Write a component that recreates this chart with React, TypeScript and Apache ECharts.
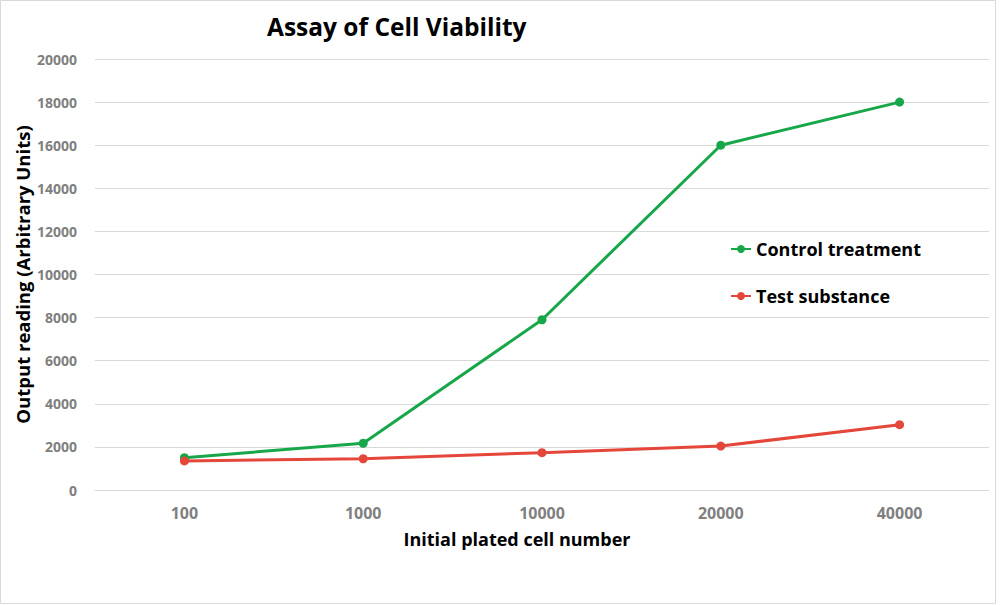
import React, { useEffect, useRef } from "react";
import * as echarts from "echarts";

// Initial plated cell numbers (categories)
const cellNumbers = ["100", "1000", "10000", "20000", "40000"];

// Output readings (arbitrary units)
const controlTreatment = [1500, 2170, 7900, 16000, 18000];
const testSubstance = [1350, 1450, 1730, 2040, 3030];

const yTicks = { min: 0, max: 20000, interval: 2000 };

const FONT = "'Open Sans', Lato, sans-serif";
const GREEN = "#17a74a";
const RED = "#e4463a";

export default function App() {
  const ref = useRef<HTMLDivElement>(null);

  useEffect(() => {
    if (!ref.current) return;
    const chart = echarts.init(ref.current, undefined, { renderer: "svg" });
    chart.setOption({
      animation: false,
      backgroundColor: "#ffffff",
      textStyle: { fontFamily: FONT },
      title: {
        text: "Assay of Cell Viability",
        left: 267,
        top: 14,
        padding: 0,
        textStyle: { fontFamily: FONT, fontSize: 24.5, fontWeight: "bold", color: "#000000" },
      },
      graphic: [
        {
          type: "rect",
          shape: { x: 0.5, y: 0.5, width: 995, height: 603 },
          style: { fill: "none", stroke: "#d9d9d9", lineWidth: 1 },
          silent: true,
        },
      ],
      legend: {
        orient: "vertical",
        left: 730,
        top: 239,
        padding: 0,
        itemWidth: 20,
        itemHeight: 10,
        itemGap: 27,
        textStyle: {
          fontFamily: FONT,
          fontSize: 18,
          fontWeight: "bold",
          color: "#000000",
          lineHeight: 20,
        },
        data: ["Control treatment", "Test substance"],
      },
      grid: { left: 95, right: 11, top: 59, bottom: 115 },
      xAxis: {
        type: "category",
        data: cellNumbers,
        boundaryGap: true,
        name: "Initial plated cell number",
        nameLocation: "middle",
        nameGap: 40,
        nameMoveOverlap: false,
        nameTextStyle: {
          fontFamily: FONT,
          fontSize: 18,
          fontWeight: "bold",
          color: "#000000",
          padding: [0, 50, 0, 0],
        },
        axisLine: { show: true, lineStyle: { color: "#d9d9d9", width: 1 } },
        axisTick: { show: false },
        axisLabel: {
          margin: 15,
          fontFamily: FONT,
          fontSize: 16,
          fontWeight: "bold",
          color: "#7f7f7f",
        },
      },
      yAxis: {
        type: "value",
        min: yTicks.min,
        max: yTicks.max,
        interval: yTicks.interval,
        name: "Output reading (Arbitrary Units)",
        nameLocation: "middle",
        nameGap: 63,
        nameMoveOverlap: false,
        nameTextStyle: {
          fontFamily: FONT,
          fontSize: 18.5,
          fontWeight: "bold",
          color: "#000000",
        },
        axisLine: { show: false },
        axisTick: { show: false },
        splitLine: { lineStyle: { color: "#d9d9d9", width: 1 } },
        axisLabel: {
          margin: 18,
          fontFamily: FONT,
          fontSize: 14,
          fontWeight: "bold",
          color: "#7f7f7f",
          formatter: (v: number) => String(v),
        },
      },
      series: [
        {
          name: "Control treatment",
          type: "line",
          data: controlTreatment,
          symbol: "circle",
          symbolSize: 9,
          lineStyle: { color: GREEN, width: 3 },
          itemStyle: { color: GREEN },
        },
        {
          name: "Test substance",
          type: "line",
          data: testSubstance,
          symbol: "circle",
          symbolSize: 9,
          lineStyle: { color: RED, width: 3 },
          itemStyle: { color: RED },
        },
      ],
    });
    return () => chart.dispose();
  }, []);

  return (
    <div
      ref={ref}
      style={{ position: "fixed", left: 0, top: 0, width: 1000, height: 605 }}
    />
  );
}
